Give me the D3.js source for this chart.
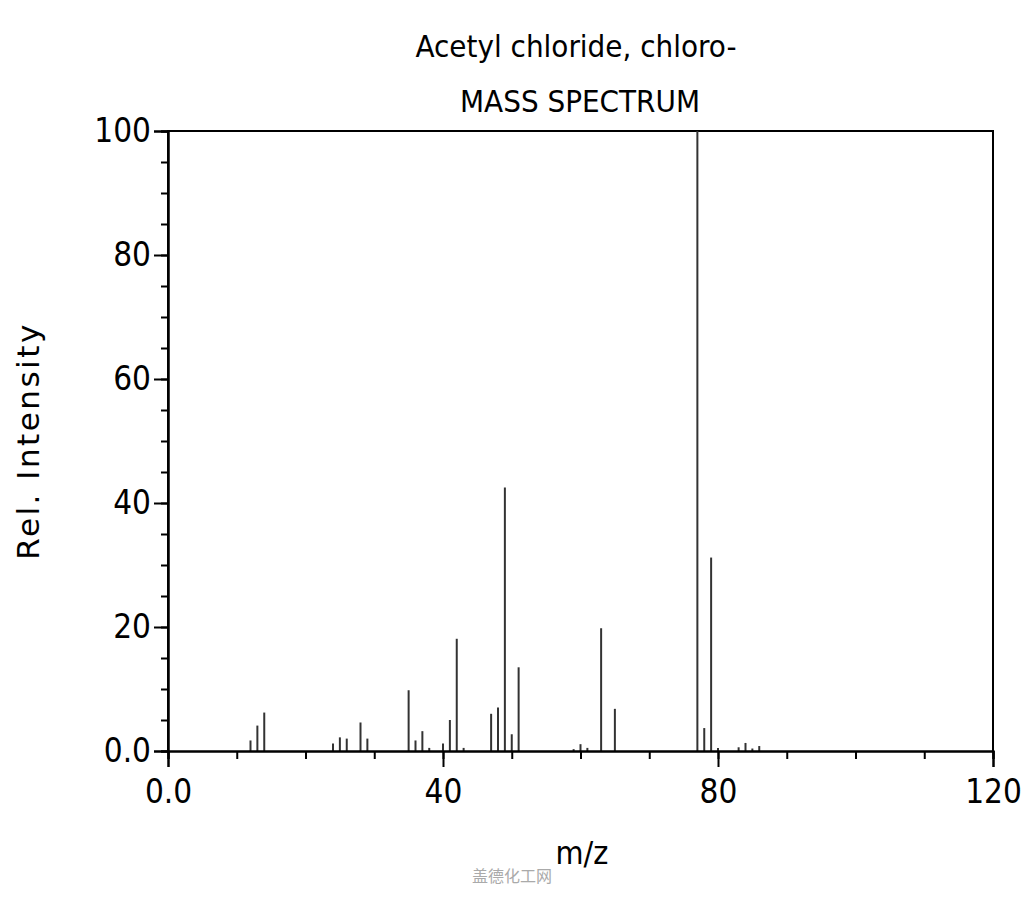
<!DOCTYPE html>
<html>
<head>
<meta charset="utf-8">
<script src="https://cdn.jsdelivr.net/npm/d3@7"></script>
<style>
  body { margin: 0; background: #fff; }
  text { font-family: "DejaVu Sans Condensed", "DejaVu Sans", sans-serif; }
</style>
</head>
<body>
<div id="chart"></div>
<script>
// peaks
var mz =        [12, 13, 14, 24, 25, 26, 28, 29, 35, 36, 37, 38, 40, 41, 42, 43, 47, 48, 49, 50, 51, 59, 60, 61, 63, 65, 77, 78, 79, 80, 83, 84, 85, 86];
var intensity = [1.7, 4.1, 6.2, 1.2, 2.2, 2.0, 4.6, 2.0, 9.8, 1.7, 3.2, 0.5, 1.2, 5.0, 18.1, 0.5, 6.0, 7.0, 42.5, 2.7, 13.5, 0.3, 1.1, 0.5, 19.8, 6.8, 100, 3.7, 31.2, 0.5, 0.6, 1.3, 0.4, 0.8];
var xTicks = [0, 40, 80, 120];
var xTickLabels = ["0.0", "40", "80", "120"];
var yTicks = [0, 20, 40, 60, 80, 100];
var yTickLabels = ["0.0", "20", "40", "60", "80", "100"];

var margin = {top: 131, right: 31, bottom: 149, left: 168},
    width = 1024 - margin.left - margin.right,
    height = 900 - margin.top - margin.bottom;

var root = d3.select("#chart").append("svg")
    .attr("width", 1024).attr("height", 900);
var svg = root.append("g")
    .attr("transform", "translate(" + margin.left + "," + margin.top + ")");

var x = d3.scaleLinear().domain([0, 120]).range([0, width]);
var y = d3.scaleLinear().domain([0, 100]).range([height, 0]);

// frame
svg.append("path")
  .attr("d", "M0," + height + "V0H" + width + "V" + height)
  .attr("fill", "none").attr("stroke", "#000").attr("stroke-width", 2);

// bars
svg.selectAll(".bar")
  .data(mz.map(function(d, i) { return {m: d, v: intensity[i]}; }))
  .enter().append("line")
  .attr("x1", function(d) { return x(d.m); })
  .attr("x2", function(d) { return x(d.m); })
  .attr("y1", y(0))
  .attr("y2", function(d) { return y(d.v); })
  .attr("stroke", "#333").attr("stroke-width", 2);

// x axis
var xa = svg.append("g").attr("transform", "translate(0," + height + ")");
xa.call(d3.axisBottom(x).tickValues(d3.range(0, 121, 10)).tickSize(8).tickFormat(""));
xa.append("g").call(d3.axisBottom(x).tickValues(xTicks).tickSize(16)
    .tickFormat(function(d, i) { return xTickLabels[i]; }))
  .selectAll("text").attr("font-size", 33).attr("y", 22).attr("dy", "0.9em").attr("fill", "#000");
xa.selectAll("path").attr("stroke-width", 2);
xa.selectAll("line").attr("stroke-width", 2);

// y axis
var ya = svg.append("g");
ya.call(d3.axisLeft(y).tickValues(d3.range(0, 101, 5)).tickSize(7).tickFormat(""));
ya.append("g").call(d3.axisLeft(y).tickValues(yTicks).tickSize(14)
    .tickFormat(function(d, i) { return yTickLabels[i]; }))
  .selectAll("text").attr("font-size", 33).attr("fill", "#000");
ya.selectAll("path").attr("stroke-width", 2);
ya.selectAll("line").attr("stroke-width", 2);

// titles
root.append("text").attr("x", 576).attr("y", 57).attr("text-anchor", "middle")
  .attr("font-size", 31).text("Acetyl chloride, chloro-");
root.append("text").attr("x", 580).attr("y", 112).attr("text-anchor", "middle")
  .attr("font-size", 31).text("MASS SPECTRUM");
root.append("text").attr("x", 582).attr("y", 864).attr("text-anchor", "middle")
  .attr("font-size", 32).text("m/z");
root.append("text").attr("transform", "translate(39,441)rotate(-90)")
  .attr("text-anchor", "middle").attr("font-size", 31)
  .style("font-family", "'DejaVu Sans', sans-serif").attr("letter-spacing", 2.5)
  .text("Rel. Intensity");
root.append("text").attr("x", 512).attr("y", 882).attr("text-anchor", "middle")
  .attr("font-size", 16).attr("fill", "#aaa")
  .style("font-family", "'Noto Sans CJK SC', serif").text("盖德化工网");
</script>
</body>
</html>
